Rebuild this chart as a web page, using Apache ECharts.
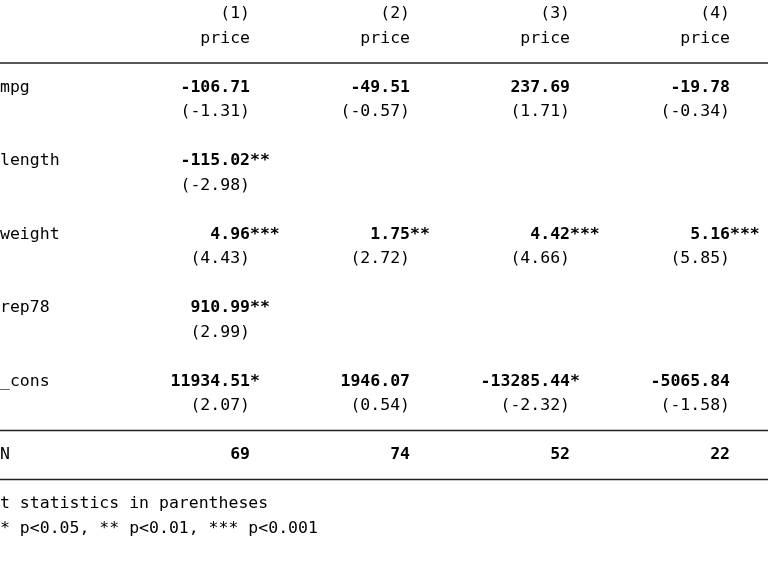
<!DOCTYPE html>
<html>
<head>
<meta charset="utf-8">
<script src="https://cdn.jsdelivr.net/npm/echarts@6/dist/echarts.min.js"></script>
<style>html,body{margin:0;padding:0;background:#fff}#main{width:768px;height:568px}</style>
</head>
<body>
<div id="main"></div>
<script>
var dom = document.getElementById("main");
var myChart = echarts.init(dom);

// table content
var colHeads = ['(1)', '(2)', '(3)', '(4)'];
var depVars = ['price', 'price', 'price', 'price'];
var rowNames = ['mpg', 'length', 'weight', 'rep78', '_cons'];
var coefs = [
    ['-106.71', '-49.51', '237.69', '-19.78'],
    ['-115.02', null, null, null],
    ['4.96', '1.75', '4.42', '5.16'],
    ['910.99', null, null, null],
    ['11934.51', '1946.07', '-13285.44', '-5065.84']
];
var stars = [
    ['', '', '', ''],
    ['**', '', '', ''],
    ['***', '**', '***', '***'],
    ['**', '', '', ''],
    ['*', '', '*', '']
];
var tstats = [
    ['-1.31', '-0.57', '1.71', '-0.34'],
    ['-2.98', null, null, null],
    ['4.43', '2.72', '4.66', '5.85'],
    ['2.99', null, null, null],
    ['2.07', '0.54', '-2.32', '-1.58']
];
var nObs = [69, 74, 52, 22];
var notes = ['t statistics in parentheses', '* p<0.05, ** p<0.01, *** p<0.001'];

// line positions (in text-line units)
var xMin = -0.5625, xMax = 4.2375;
var yMin = -0.571, yMax = 22.61;
var ruleLines = [2, 17, 19];

var font = '"DejaVu Sans Mono", "Liberation Mono", monospace';

var rightCells = [], leftCells = [];
colHeads.forEach(function (h, j) {
    rightCells.push({ value: [j + 1, 0], t: h, w: 'normal' });
    rightCells.push({ value: [j + 1, 1], t: depVars[j], w: 'normal' });
});
rowNames.forEach(function (name, i) {
    var y = 3 + i * 3;
    leftCells.push({ value: [xMin, y], t: name, w: 'normal' });
    coefs[i].forEach(function (c, j) {
        if (c === null) return;
        rightCells.push({ value: [j + 1, y], t: c, w: 'bold' });
        if (stars[i][j]) leftCells.push({ value: [j + 1, y], t: stars[i][j], w: 'bold' });
        rightCells.push({ value: [j + 1, y + 1], t: '(' + tstats[i][j] + ')', w: 'normal' });
    });
});
leftCells.push({ value: [xMin, 18], t: 'N', w: 'normal' });
nObs.forEach(function (n, j) {
    rightCells.push({ value: [j + 1, 18], t: String(n), w: 'bold' });
});
notes.forEach(function (n, k) {
    leftCells.push({ value: [xMin, 20 + k], t: n, w: 'normal' });
});

function textSeries(data, align) {
    return {
        type: 'scatter',
        symbolSize: 0,
        silent: true,
        itemStyle: { opacity: 1 },
        data: data.map(function (d) {
            return {
                value: d.value,
                label: {
                    show: true, position: 'inside', formatter: d.t, align: align,
                    fontFamily: font, fontSize: 16.5, textBorderWidth: 0,
                    fontWeight: d.w, color: '#000'
                }
            };
        })
    };
}

var series = [textSeries(rightCells, 'right'), textSeries(leftCells, 'left')];
ruleLines.forEach(function (y) {
    series.push({
        type: 'line', symbol: 'none', silent: true,
        lineStyle: { color: '#222', width: 1.5 },
        data: [[xMin, y], [xMax, y]]
    });
});

var option = {
    animation: false,
    grid: { left: 0, right: 0, top: 0, bottom: 0 },
    xAxis: { type: 'value', min: xMin, max: xMax, show: false },
    yAxis: { type: 'value', min: yMin, max: yMax, inverse: true, show: false },
    series: series
};

myChart.setOption(option);
</script>
</body>
</html>
